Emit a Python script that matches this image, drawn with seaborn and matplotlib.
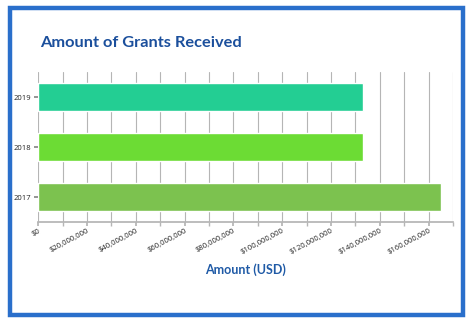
import matplotlib
matplotlib.use("Agg")
import matplotlib.pyplot as plt
import seaborn as sns
import pandas as pd
from matplotlib.patches import Rectangle
from matplotlib.ticker import MultipleLocator, FuncFormatter

years = ["2019", "2018", "2017"]
amounts = [133_000_000, 133_000_000, 165_000_000]
bar_colors = ["#23CE93", "#6CDC34", "#7CC24F"]

sns.set_theme(style="white")
plt.rcParams['font.family'] = ['Open Sans', 'DejaVu Sans']

df = pd.DataFrame({"Year": years, "Amount": amounts})

fig = plt.figure(figsize=(4.74, 3.25), dpi=100)
fig.patch.set_facecolor("white")

# blue frame
fig.patches.append(Rectangle((10/474, 1-315/325), 453/474, 307/325,
                             transform=fig.transFigure, fill=False,
                             edgecolor="#2A6FCB", linewidth=3.2, zorder=0))

ax = fig.add_axes([38.3/474, 1-222/325, (453-38.3)/474, 150/325])
sns.barplot(data=df, x="Amount", y="Year", hue="Year", palette=bar_colors,
            order=years, legend=False, width=0.57, saturation=1, ax=ax)

ax.set_xlim(0, 170_000_000)
ax.set_ylim(2.5, -0.5)
ax.xaxis.set_major_locator(MultipleLocator(20_000_000))
ax.xaxis.set_minor_locator(MultipleLocator(10_000_000))
ax.xaxis.set_major_formatter(FuncFormatter(lambda v, p: f"${v:,.0f}"))
ax.grid(True, axis="x", which="both", color="#B5B5B5", linewidth=0.8)
ax.set_axisbelow(True)
for s in ["top", "right", "left"]:
    ax.spines[s].set_visible(False)
ax.spines["bottom"].set_color("#B5B5B5")
ax.tick_params(axis="x", which="both", bottom=True, length=3, color="#B5B5B5",
               labelsize=5.5, labelcolor="#222222", pad=1)
ax.tick_params(axis="y", left=True, length=3, color="#888888",
               labelsize=5.5, labelcolor="#222222", pad=2)
for lbl in ax.get_xticklabels():
    lbl.set_rotation(28)
    lbl.set_ha("right")
    lbl.set_rotation_mode("anchor")
ax.set_ylabel("")
ax.set_xlabel("Amount (USD)", fontsize=9, color="#1F5AA6", labelpad=5,
              fontweight="bold", family=["Lato", "DejaVu Sans"])

fig.text(40/474, 1-43/325, "Amount of Grants Received", fontsize=11.8,
         fontweight="bold", color="#1B4F9C", va="center", ha="left",
         family=["Lato", "DejaVu Sans"])

fig.savefig("out.png", dpi=100)
